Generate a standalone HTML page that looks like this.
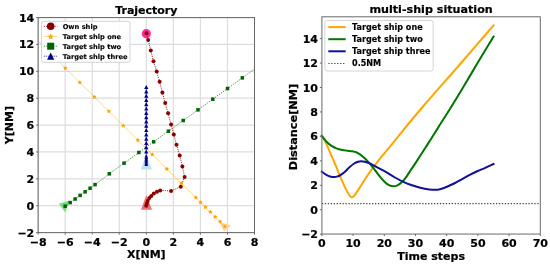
<!DOCTYPE html>
<html><head><meta charset="utf-8"><title>multi-ship situation</title>
<style>
html,body{margin:0;padding:0;background:#fff;}
svg{display:block;filter:blur(0.35px);}
.t{stroke:#000;stroke-width:0.22px;font-family:'DejaVu Sans', 'Liberation Sans', sans-serif;font-weight:bold;font-size:11px;fill:#000;}
.lg1{stroke:#000;stroke-width:0.12px;font-family:'DejaVu Sans', 'Liberation Sans', sans-serif;font-weight:bold;font-size:6.7px;fill:#000;}
.lg2{stroke:#000;stroke-width:0.14px;font-family:'DejaVu Sans', 'Liberation Sans', sans-serif;font-weight:bold;font-size:8.1px;fill:#000;}
</style></head>
<body>
<svg width="550" height="265" viewBox="0 0 550 265">
<rect width="550" height="265" fill="#fff"/>
<line x1="38.15" y1="17.57" x2="38.15" y2="232.60" stroke="#dddddd" stroke-width="1.2"/>
<line x1="65.19" y1="17.57" x2="65.19" y2="232.60" stroke="#dddddd" stroke-width="1.2"/>
<line x1="92.24" y1="17.57" x2="92.24" y2="232.60" stroke="#dddddd" stroke-width="1.2"/>
<line x1="119.28" y1="17.57" x2="119.28" y2="232.60" stroke="#dddddd" stroke-width="1.2"/>
<line x1="146.32" y1="17.57" x2="146.32" y2="232.60" stroke="#dddddd" stroke-width="1.2"/>
<line x1="173.37" y1="17.57" x2="173.37" y2="232.60" stroke="#dddddd" stroke-width="1.2"/>
<line x1="200.41" y1="17.57" x2="200.41" y2="232.60" stroke="#dddddd" stroke-width="1.2"/>
<line x1="227.46" y1="17.57" x2="227.46" y2="232.60" stroke="#dddddd" stroke-width="1.2"/>
<line x1="254.50" y1="17.57" x2="254.50" y2="232.60" stroke="#dddddd" stroke-width="1.2"/>
<line x1="38.15" y1="232.60" x2="254.50" y2="232.60" stroke="#dddddd" stroke-width="1.2"/>
<line x1="38.15" y1="205.72" x2="254.50" y2="205.72" stroke="#dddddd" stroke-width="1.2"/>
<line x1="38.15" y1="178.84" x2="254.50" y2="178.84" stroke="#dddddd" stroke-width="1.2"/>
<line x1="38.15" y1="151.96" x2="254.50" y2="151.96" stroke="#dddddd" stroke-width="1.2"/>
<line x1="38.15" y1="125.08" x2="254.50" y2="125.08" stroke="#dddddd" stroke-width="1.2"/>
<line x1="38.15" y1="98.21" x2="254.50" y2="98.21" stroke="#dddddd" stroke-width="1.2"/>
<line x1="38.15" y1="71.33" x2="254.50" y2="71.33" stroke="#dddddd" stroke-width="1.2"/>
<line x1="38.15" y1="44.45" x2="254.50" y2="44.45" stroke="#dddddd" stroke-width="1.2"/>
<line x1="38.15" y1="17.57" x2="254.50" y2="17.57" stroke="#dddddd" stroke-width="1.2"/>
<clipPath id="cl"><rect x="38.15" y="17.57" width="216.35" height="215.03"/></clipPath>
<g clip-path="url(#cl)">
<polygon points="146.20,195.20 141.00,209.80 152.10,209.80" fill="#f07070" fill-opacity="1.0"/>
<polygon points="146.27,155.20 140.60,169.60 151.95,169.60" fill="#bfe3f3" fill-opacity="1.0"/>
<polygon points="69.60,200.40 58.90,203.80 65.30,212.50" fill="#7ddc7d" fill-opacity="1.0"/>
<polygon points="219.40,221.90 231.40,225.60 224.00,231.80" fill="#ffd699" fill-opacity="1.0"/>
<circle cx="146.32" cy="33.70" r="4.6" fill="#ff1493" fill-opacity="0.9"/>
<path d="M224.90,226.50 L220.05,221.67 L215.20,216.84 L210.35,212.01 L205.50,207.18 L200.65,202.35 L195.80,197.52 L181.30,183.30 L166.80,168.90 L152.30,154.50 L137.80,140.10 L123.30,125.70 L108.80,111.30 L94.30,96.90 L79.80,82.50 L65.30,68.10 L50.80,53.70 L36.30,39.30 L21.80,24.90" fill="none" stroke="#ffa500" stroke-width="1.0" stroke-opacity="0.45"/>
<path d="M65.20,206.20 L70.18,202.60 L75.16,199.00 L80.14,195.40 L85.12,191.80 L90.10,188.20 L95.08,184.60 L109.30,173.80 L124.08,163.14 L138.86,152.48 L153.64,141.82 L168.42,131.16 L183.20,120.50 L197.98,109.84 L212.76,99.18 L227.54,88.52 L242.32,77.86 L257.10,67.20 L271.88,56.54" fill="none" stroke="#1f8a1f" stroke-width="1.0" stroke-dasharray="1.2,1.3" stroke-opacity="0.9"/>
<path d="M146.27,164.30 L146.27,162.88 L146.27,161.46 L146.27,160.04 L146.27,158.62 L146.27,157.20 L146.27,155.78 L146.27,151.50 L146.27,147.20 L146.27,142.90 L146.27,138.60 L146.27,134.30 L146.27,130.00 L146.27,125.70 L146.27,121.40 L146.27,117.10 L146.27,112.80 L146.27,108.50 L146.27,104.20 L146.27,99.90 L146.27,95.60 L146.27,91.30 L146.27,87.00" fill="none" stroke="#2020a0" stroke-width="0.9" stroke-dasharray="1,1"/>
<path d="M146.20,205.70 L146.80,203.80 L147.70,200.90 L149.30,198.10 L151.30,195.90 L153.80,193.60 L157.00,191.70 L160.20,190.40 L171.10,190.90 L180.80,186.70 L184.60,176.90 L182.40,166.40 L179.70,155.60 L176.50,144.80 L173.80,134.60 L171.10,124.40 L168.10,113.30 L165.20,102.90 L162.40,92.60 L159.60,81.80 L156.70,71.50 L153.50,61.20 L150.80,50.60 L148.20,40.10 L146.45,33.25" fill="none" stroke="#a01010" stroke-width="1.0" stroke-dasharray="1,1.2"/>
<polygon points="224.90,224.30 224.12,225.43 222.81,225.82 223.64,226.91 223.61,228.28 224.90,227.82 226.19,228.28 226.16,226.91 226.99,225.82 225.68,225.43" fill="#ffa500"/>
<polygon points="220.05,219.47 219.27,220.60 217.96,220.99 218.79,222.08 218.76,223.45 220.05,222.99 221.34,223.45 221.31,222.08 222.14,220.99 220.83,220.60" fill="#ffa500"/>
<polygon points="215.20,214.64 214.42,215.77 213.11,216.16 213.94,217.25 213.91,218.62 215.20,218.16 216.49,218.62 216.46,217.25 217.29,216.16 215.98,215.77" fill="#ffa500"/>
<polygon points="210.35,209.81 209.57,210.94 208.26,211.33 209.09,212.42 209.06,213.79 210.35,213.33 211.64,213.79 211.61,212.42 212.44,211.33 211.13,210.94" fill="#ffa500"/>
<polygon points="205.50,204.98 204.72,206.11 203.41,206.50 204.24,207.59 204.21,208.96 205.50,208.50 206.79,208.96 206.76,207.59 207.59,206.50 206.28,206.11" fill="#ffa500"/>
<polygon points="200.65,200.15 199.87,201.28 198.56,201.67 199.39,202.76 199.36,204.13 200.65,203.67 201.94,204.13 201.91,202.76 202.74,201.67 201.43,201.28" fill="#ffa500"/>
<polygon points="195.80,195.32 195.02,196.45 193.71,196.84 194.54,197.93 194.51,199.30 195.80,198.84 197.09,199.30 197.06,197.93 197.89,196.84 196.58,196.45" fill="#ffa500"/>
<polygon points="181.30,181.10 180.52,182.23 179.21,182.62 180.04,183.71 180.01,185.08 181.30,184.62 182.59,185.08 182.56,183.71 183.39,182.62 182.08,182.23" fill="#ffa500"/>
<polygon points="166.80,166.70 166.02,167.83 164.71,168.22 165.54,169.31 165.51,170.68 166.80,170.22 168.09,170.68 168.06,169.31 168.89,168.22 167.58,167.83" fill="#ffa500"/>
<polygon points="152.30,152.30 151.52,153.43 150.21,153.82 151.04,154.91 151.01,156.28 152.30,155.82 153.59,156.28 153.56,154.91 154.39,153.82 153.08,153.43" fill="#ffa500"/>
<polygon points="137.80,137.90 137.02,139.03 135.71,139.42 136.54,140.51 136.51,141.88 137.80,141.42 139.09,141.88 139.06,140.51 139.89,139.42 138.58,139.03" fill="#ffa500"/>
<polygon points="123.30,123.50 122.52,124.63 121.21,125.02 122.04,126.11 122.01,127.48 123.30,127.02 124.59,127.48 124.56,126.11 125.39,125.02 124.08,124.63" fill="#ffa500"/>
<polygon points="108.80,109.10 108.02,110.23 106.71,110.62 107.54,111.71 107.51,113.08 108.80,112.62 110.09,113.08 110.06,111.71 110.89,110.62 109.58,110.23" fill="#ffa500"/>
<polygon points="94.30,94.70 93.52,95.83 92.21,96.22 93.04,97.31 93.01,98.68 94.30,98.22 95.59,98.68 95.56,97.31 96.39,96.22 95.08,95.83" fill="#ffa500"/>
<polygon points="79.80,80.30 79.02,81.43 77.71,81.82 78.54,82.91 78.51,84.28 79.80,83.82 81.09,84.28 81.06,82.91 81.89,81.82 80.58,81.43" fill="#ffa500"/>
<polygon points="65.30,65.90 64.52,67.03 63.21,67.42 64.04,68.51 64.01,69.88 65.30,69.42 66.59,69.88 66.56,68.51 67.39,67.42 66.08,67.03" fill="#ffa500"/>
<polygon points="50.80,51.50 50.02,52.63 48.71,53.02 49.54,54.11 49.51,55.48 50.80,55.02 52.09,55.48 52.06,54.11 52.89,53.02 51.58,52.63" fill="#ffa500"/>
<polygon points="36.30,37.10 35.52,38.23 34.21,38.62 35.04,39.71 35.01,41.08 36.30,40.62 37.59,41.08 37.56,39.71 38.39,38.62 37.08,38.23" fill="#ffa500"/>
<polygon points="21.80,22.70 21.02,23.83 19.71,24.22 20.54,25.31 20.51,26.68 21.80,26.22 23.09,26.68 23.06,25.31 23.89,24.22 22.58,23.83" fill="#ffa500"/>
<rect x="63.45" y="204.45" width="3.5" height="3.5" fill="#006400"/>
<rect x="68.43" y="200.85" width="3.5" height="3.5" fill="#006400"/>
<rect x="73.41" y="197.25" width="3.5" height="3.5" fill="#006400"/>
<rect x="78.39" y="193.65" width="3.5" height="3.5" fill="#006400"/>
<rect x="83.37" y="190.05" width="3.5" height="3.5" fill="#006400"/>
<rect x="88.35" y="186.45" width="3.5" height="3.5" fill="#006400"/>
<rect x="93.33" y="182.85" width="3.5" height="3.5" fill="#006400"/>
<rect x="107.55" y="172.05" width="3.5" height="3.5" fill="#006400"/>
<rect x="122.33" y="161.39" width="3.5" height="3.5" fill="#006400"/>
<rect x="137.11" y="150.73" width="3.5" height="3.5" fill="#006400"/>
<rect x="151.89" y="140.07" width="3.5" height="3.5" fill="#006400"/>
<rect x="166.67" y="129.41" width="3.5" height="3.5" fill="#006400"/>
<rect x="181.45" y="118.75" width="3.5" height="3.5" fill="#006400"/>
<rect x="196.23" y="108.09" width="3.5" height="3.5" fill="#006400"/>
<rect x="211.01" y="97.43" width="3.5" height="3.5" fill="#006400"/>
<rect x="225.79" y="86.77" width="3.5" height="3.5" fill="#006400"/>
<rect x="240.57" y="76.11" width="3.5" height="3.5" fill="#006400"/>
<rect x="255.35" y="65.45" width="3.5" height="3.5" fill="#006400"/>
<rect x="270.13" y="54.79" width="3.5" height="3.5" fill="#006400"/>
<polygon points="146.27,162.50 144.47,166.10 148.07,166.10" fill="#00008b"/>
<polygon points="146.27,161.08 144.47,164.68 148.07,164.68" fill="#00008b"/>
<polygon points="146.27,159.66 144.47,163.26 148.07,163.26" fill="#00008b"/>
<polygon points="146.27,158.24 144.47,161.84 148.07,161.84" fill="#00008b"/>
<polygon points="146.27,156.82 144.47,160.42 148.07,160.42" fill="#00008b"/>
<polygon points="146.27,155.40 144.47,159.00 148.07,159.00" fill="#00008b"/>
<polygon points="146.27,153.98 144.47,157.58 148.07,157.58" fill="#00008b"/>
<polygon points="146.27,149.40 144.17,153.60 148.37,153.60" fill="#00008b"/>
<polygon points="146.27,145.10 144.17,149.30 148.37,149.30" fill="#00008b"/>
<polygon points="146.27,140.80 144.17,145.00 148.37,145.00" fill="#00008b"/>
<polygon points="146.27,136.50 144.17,140.70 148.37,140.70" fill="#00008b"/>
<polygon points="146.27,132.20 144.17,136.40 148.37,136.40" fill="#00008b"/>
<polygon points="146.27,127.90 144.17,132.10 148.37,132.10" fill="#00008b"/>
<polygon points="146.27,123.60 144.17,127.80 148.37,127.80" fill="#00008b"/>
<polygon points="146.27,119.30 144.17,123.50 148.37,123.50" fill="#00008b"/>
<polygon points="146.27,115.00 144.17,119.20 148.37,119.20" fill="#00008b"/>
<polygon points="146.27,110.70 144.17,114.90 148.37,114.90" fill="#00008b"/>
<polygon points="146.27,106.40 144.17,110.60 148.37,110.60" fill="#00008b"/>
<polygon points="146.27,102.10 144.17,106.30 148.37,106.30" fill="#00008b"/>
<polygon points="146.27,97.80 144.17,102.00 148.37,102.00" fill="#00008b"/>
<polygon points="146.27,93.50 144.17,97.70 148.37,97.70" fill="#00008b"/>
<polygon points="146.27,89.20 144.17,93.40 148.37,93.40" fill="#00008b"/>
<polygon points="146.27,84.90 144.17,89.10 148.37,89.10" fill="#00008b"/>
<circle cx="146.20" cy="205.70" r="2.0" fill="#8b0000"/>
<circle cx="146.80" cy="203.80" r="2.0" fill="#8b0000"/>
<circle cx="147.70" cy="200.90" r="2.0" fill="#8b0000"/>
<circle cx="149.30" cy="198.10" r="2.0" fill="#8b0000"/>
<circle cx="151.30" cy="195.90" r="2.0" fill="#8b0000"/>
<circle cx="153.80" cy="193.60" r="2.0" fill="#8b0000"/>
<circle cx="157.00" cy="191.70" r="2.0" fill="#8b0000"/>
<circle cx="160.20" cy="190.40" r="2.0" fill="#8b0000"/>
<circle cx="171.10" cy="190.90" r="2.0" fill="#8b0000"/>
<circle cx="180.80" cy="186.70" r="2.0" fill="#8b0000"/>
<circle cx="184.60" cy="176.90" r="2.0" fill="#8b0000"/>
<circle cx="182.40" cy="166.40" r="2.0" fill="#8b0000"/>
<circle cx="179.70" cy="155.60" r="2.0" fill="#8b0000"/>
<circle cx="176.50" cy="144.80" r="2.0" fill="#8b0000"/>
<circle cx="173.80" cy="134.60" r="2.0" fill="#8b0000"/>
<circle cx="171.10" cy="124.40" r="2.0" fill="#8b0000"/>
<circle cx="168.10" cy="113.30" r="2.0" fill="#8b0000"/>
<circle cx="165.20" cy="102.90" r="2.0" fill="#8b0000"/>
<circle cx="162.40" cy="92.60" r="2.0" fill="#8b0000"/>
<circle cx="159.60" cy="81.80" r="2.0" fill="#8b0000"/>
<circle cx="156.70" cy="71.50" r="2.0" fill="#8b0000"/>
<circle cx="153.50" cy="61.20" r="2.0" fill="#8b0000"/>
<circle cx="150.80" cy="50.60" r="2.0" fill="#8b0000"/>
<circle cx="148.20" cy="40.10" r="2.0" fill="#8b0000"/>
<circle cx="146.45" cy="33.25" r="2.0" fill="#8b0000"/>
</g>
<rect x="38.15" y="17.57" width="216.35" height="215.03" fill="none" stroke="#6a6a6a" stroke-width="1.0"/>
<line x1="38.15" y1="232.60" x2="38.15" y2="234.60" stroke="#6a6a6a" stroke-width="1.0"/>
<text x="38.15" y="245.80" text-anchor="middle" class="t">−8</text>
<line x1="65.19" y1="232.60" x2="65.19" y2="234.60" stroke="#6a6a6a" stroke-width="1.0"/>
<text x="65.19" y="245.80" text-anchor="middle" class="t">−6</text>
<line x1="92.24" y1="232.60" x2="92.24" y2="234.60" stroke="#6a6a6a" stroke-width="1.0"/>
<text x="92.24" y="245.80" text-anchor="middle" class="t">−4</text>
<line x1="119.28" y1="232.60" x2="119.28" y2="234.60" stroke="#6a6a6a" stroke-width="1.0"/>
<text x="119.28" y="245.80" text-anchor="middle" class="t">−2</text>
<line x1="146.32" y1="232.60" x2="146.32" y2="234.60" stroke="#6a6a6a" stroke-width="1.0"/>
<text x="146.32" y="245.80" text-anchor="middle" class="t">0</text>
<line x1="173.37" y1="232.60" x2="173.37" y2="234.60" stroke="#6a6a6a" stroke-width="1.0"/>
<text x="173.37" y="245.80" text-anchor="middle" class="t">2</text>
<line x1="200.41" y1="232.60" x2="200.41" y2="234.60" stroke="#6a6a6a" stroke-width="1.0"/>
<text x="200.41" y="245.80" text-anchor="middle" class="t">4</text>
<line x1="227.46" y1="232.60" x2="227.46" y2="234.60" stroke="#6a6a6a" stroke-width="1.0"/>
<text x="227.46" y="245.80" text-anchor="middle" class="t">6</text>
<line x1="254.50" y1="232.60" x2="254.50" y2="234.60" stroke="#6a6a6a" stroke-width="1.0"/>
<text x="254.50" y="245.80" text-anchor="middle" class="t">8</text>
<line x1="36.15" y1="232.60" x2="38.15" y2="232.60" stroke="#6a6a6a" stroke-width="1.0"/>
<text x="34.25" y="236.60" text-anchor="end" class="t">−2</text>
<line x1="36.15" y1="205.72" x2="38.15" y2="205.72" stroke="#6a6a6a" stroke-width="1.0"/>
<text x="34.25" y="209.72" text-anchor="end" class="t">0</text>
<line x1="36.15" y1="178.84" x2="38.15" y2="178.84" stroke="#6a6a6a" stroke-width="1.0"/>
<text x="34.25" y="182.84" text-anchor="end" class="t">2</text>
<line x1="36.15" y1="151.96" x2="38.15" y2="151.96" stroke="#6a6a6a" stroke-width="1.0"/>
<text x="34.25" y="155.96" text-anchor="end" class="t">4</text>
<line x1="36.15" y1="125.08" x2="38.15" y2="125.08" stroke="#6a6a6a" stroke-width="1.0"/>
<text x="34.25" y="129.08" text-anchor="end" class="t">6</text>
<line x1="36.15" y1="98.21" x2="38.15" y2="98.21" stroke="#6a6a6a" stroke-width="1.0"/>
<text x="34.25" y="102.21" text-anchor="end" class="t">8</text>
<line x1="36.15" y1="71.33" x2="38.15" y2="71.33" stroke="#6a6a6a" stroke-width="1.0"/>
<text x="34.25" y="75.33" text-anchor="end" class="t">10</text>
<line x1="36.15" y1="44.45" x2="38.15" y2="44.45" stroke="#6a6a6a" stroke-width="1.0"/>
<text x="34.25" y="48.45" text-anchor="end" class="t">12</text>
<line x1="36.15" y1="17.57" x2="38.15" y2="17.57" stroke="#6a6a6a" stroke-width="1.0"/>
<text x="34.25" y="21.57" text-anchor="end" class="t">14</text>
<text x="146.32" y="14.17" text-anchor="middle" class="t">Trajectory</text>
<text x="146.32" y="257.7" text-anchor="middle" class="t">X[NM]</text>
<text transform="translate(13.2,125.08) rotate(-90)" text-anchor="middle" class="t">Y[NM]</text>
<rect x="41.5" y="21.3" width="88.5" height="41.0" rx="2" fill="#fff" fill-opacity="0.85" stroke="#d0d0d0" stroke-width="0.9"/>
<line x1="43.8" y1="26.3" x2="57.4" y2="26.3" stroke="#a01010" stroke-width="0.9" stroke-dasharray="1,1.2"/>
<circle cx="50.7" cy="26.3" r="3.8" fill="#8b0000"/>
<line x1="43.8" y1="36.4" x2="57.4" y2="36.4" stroke="#ffa500" stroke-width="1.0" stroke-opacity="0.45"/>
<polygon points="50.70,33.60 49.80,35.56 47.66,35.81 49.24,37.27 48.82,39.39 50.70,38.34 52.58,39.39 52.16,37.27 53.74,35.81 51.60,35.56" fill="#ffa500"/>
<line x1="43.8" y1="46.2" x2="57.4" y2="46.2" stroke="#2e9a2e" stroke-width="0.9" stroke-dasharray="1.2,1.2"/>
<rect x="47.20" y="42.70" width="7.0" height="7.0" fill="#006400"/>
<line x1="43.8" y1="56.2" x2="57.4" y2="56.2" stroke="#2020a0" stroke-width="0.9" stroke-dasharray="1,1"/>
<polygon points="50.70,52.60 47.10,59.80 54.30,59.80" fill="#00008b"/>
<text x="62.7" y="28.60" class="lg1">Own ship</text>
<text x="62.7" y="38.70" class="lg1">Target ship one</text>
<text x="62.7" y="48.50" class="lg1">Target ship two</text>
<text x="62.7" y="58.50" class="lg1">Target ship three</text>
<line x1="321.9" y1="203.64" x2="540.3" y2="203.64" stroke="#444" stroke-width="1.2" stroke-dasharray="1.3,1.65"/>
<path d="M321.80,135.80 C322.38,136.77 323.83,138.63 325.30,141.60 C326.77,144.57 328.85,149.58 330.60,153.60 C332.35,157.62 334.05,161.53 335.80,165.70 C337.55,169.87 339.57,174.98 341.10,178.60 C342.63,182.22 343.85,185.00 345.00,187.40 C346.15,189.80 347.13,191.50 348.00,193.00 C348.87,194.50 349.55,195.68 350.20,196.40 C350.85,197.12 351.33,197.30 351.90,197.30 C352.47,197.30 352.93,197.05 353.60,196.40 C354.27,195.75 354.63,195.27 355.90,193.40 C357.17,191.53 359.43,187.93 361.20,185.20 C362.97,182.47 364.63,179.80 366.50,177.00 C368.37,174.20 370.48,171.05 372.40,168.40 C374.32,165.75 376.15,163.45 378.00,161.10 C379.85,158.75 381.00,157.35 383.50,154.30 C386.00,151.25 388.87,147.85 393.00,142.80 C397.13,137.75 403.30,130.05 408.30,124.00 C413.30,117.95 417.82,112.57 423.00,106.50 C428.18,100.43 434.07,93.68 439.40,87.60 C444.73,81.52 449.47,76.33 455.00,70.00 C460.53,63.67 467.57,55.43 472.60,49.60 C477.63,43.77 481.70,39.05 485.20,35.00 C488.70,30.95 492.20,26.92 493.60,25.30" fill="none" stroke="#ffa500" stroke-width="2.0" stroke-linecap="square"/>
<path d="M321.80,135.80 C322.63,136.83 325.18,140.32 326.80,142.00 C328.42,143.68 329.80,144.80 331.50,145.90 C333.20,147.00 335.25,147.93 337.00,148.60 C338.75,149.27 340.30,149.55 342.00,149.90 C343.70,150.25 345.48,150.47 347.20,150.70 C348.92,150.93 350.78,151.05 352.30,151.30 C353.82,151.55 355.02,151.68 356.30,152.20 C357.58,152.72 358.73,153.50 360.00,154.40 C361.27,155.30 362.53,156.37 363.90,157.60 C365.27,158.83 366.53,159.97 368.20,161.80 C369.87,163.63 372.02,166.20 373.90,168.60 C375.78,171.00 377.65,173.93 379.50,176.20 C381.35,178.47 383.33,180.67 385.00,182.20 C386.67,183.73 388.18,184.72 389.50,185.40 C390.82,186.08 391.57,186.32 392.90,186.30 C394.23,186.28 395.98,186.02 397.50,185.30 C399.02,184.58 400.47,183.50 402.00,182.00 C403.53,180.50 405.17,178.40 406.70,176.30 C408.23,174.20 409.68,171.68 411.20,169.40 C412.72,167.12 413.42,166.23 415.80,162.60 C418.18,158.97 421.88,153.27 425.50,147.60 C429.12,141.93 433.43,135.03 437.50,128.60 C441.57,122.17 445.82,115.57 449.90,109.00 C453.98,102.43 457.32,96.98 462.00,89.20 C466.68,81.42 472.73,71.08 478.00,62.30 C483.27,53.52 491.00,40.80 493.60,36.50" fill="none" stroke="#007800" stroke-width="2.0" stroke-linecap="square"/>
<path d="M321.80,171.70 C322.50,172.18 324.63,173.80 326.00,174.60 C327.37,175.40 328.58,176.08 330.00,176.50 C331.42,176.92 333.17,177.13 334.50,177.10 C335.83,177.07 337.08,176.60 338.00,176.30 C338.92,176.00 338.88,176.02 340.00,175.30 C341.12,174.58 343.13,173.33 344.70,172.00 C346.27,170.67 347.82,168.72 349.40,167.30 C350.98,165.88 352.77,164.43 354.20,163.50 C355.63,162.57 356.87,162.08 358.00,161.70 C359.13,161.32 359.83,161.20 361.00,161.20 C362.17,161.20 363.53,161.33 365.00,161.70 C366.47,162.07 368.30,162.75 369.80,163.40 C371.30,164.05 371.63,164.35 374.00,165.60 C376.37,166.85 380.50,168.92 384.00,170.90 C387.50,172.88 391.50,175.53 395.00,177.50 C398.50,179.47 402.30,181.45 405.00,182.70 C407.70,183.95 408.65,184.15 411.20,185.00 C413.75,185.85 417.28,187.07 420.30,187.80 C423.32,188.53 426.55,189.08 429.30,189.40 C432.05,189.72 435.02,189.72 436.80,189.70 C438.58,189.68 438.22,189.83 440.00,189.30 C441.78,188.77 444.98,187.55 447.50,186.50 C450.02,185.45 452.58,184.27 455.10,183.00 C457.62,181.73 460.08,180.30 462.60,178.90 C465.12,177.50 467.68,175.92 470.20,174.60 C472.72,173.28 475.20,172.13 477.70,171.00 C480.20,169.87 482.57,168.97 485.20,167.80 C487.83,166.63 492.12,164.63 493.50,164.00" fill="none" stroke="#10109a" stroke-width="2.0" stroke-linecap="square"/>
<rect x="321.9" y="16.8" width="218.40" height="217.25" fill="none" stroke="#6a6a6a" stroke-width="1.0"/>
<line x1="321.90" y1="234.05" x2="321.90" y2="236.05" stroke="#6a6a6a" stroke-width="1.0"/>
<text x="321.90" y="247.25" text-anchor="middle" class="t">0</text>
<line x1="353.10" y1="234.05" x2="353.10" y2="236.05" stroke="#6a6a6a" stroke-width="1.0"/>
<text x="353.10" y="247.25" text-anchor="middle" class="t">10</text>
<line x1="384.30" y1="234.05" x2="384.30" y2="236.05" stroke="#6a6a6a" stroke-width="1.0"/>
<text x="384.30" y="247.25" text-anchor="middle" class="t">20</text>
<line x1="415.50" y1="234.05" x2="415.50" y2="236.05" stroke="#6a6a6a" stroke-width="1.0"/>
<text x="415.50" y="247.25" text-anchor="middle" class="t">30</text>
<line x1="446.70" y1="234.05" x2="446.70" y2="236.05" stroke="#6a6a6a" stroke-width="1.0"/>
<text x="446.70" y="247.25" text-anchor="middle" class="t">40</text>
<line x1="477.90" y1="234.05" x2="477.90" y2="236.05" stroke="#6a6a6a" stroke-width="1.0"/>
<text x="477.90" y="247.25" text-anchor="middle" class="t">50</text>
<line x1="509.10" y1="234.05" x2="509.10" y2="236.05" stroke="#6a6a6a" stroke-width="1.0"/>
<text x="509.10" y="247.25" text-anchor="middle" class="t">60</text>
<line x1="540.30" y1="234.05" x2="540.30" y2="236.05" stroke="#6a6a6a" stroke-width="1.0"/>
<text x="540.30" y="247.25" text-anchor="middle" class="t">70</text>
<line x1="319.90" y1="234.20" x2="321.90" y2="234.20" stroke="#6a6a6a" stroke-width="1.0"/>
<text x="318.00" y="238.20" text-anchor="end" class="t">−2</text>
<line x1="319.90" y1="209.75" x2="321.90" y2="209.75" stroke="#6a6a6a" stroke-width="1.0"/>
<text x="318.00" y="213.75" text-anchor="end" class="t">0</text>
<line x1="319.90" y1="185.30" x2="321.90" y2="185.30" stroke="#6a6a6a" stroke-width="1.0"/>
<text x="318.00" y="189.30" text-anchor="end" class="t">2</text>
<line x1="319.90" y1="160.85" x2="321.90" y2="160.85" stroke="#6a6a6a" stroke-width="1.0"/>
<text x="318.00" y="164.85" text-anchor="end" class="t">4</text>
<line x1="319.90" y1="136.40" x2="321.90" y2="136.40" stroke="#6a6a6a" stroke-width="1.0"/>
<text x="318.00" y="140.40" text-anchor="end" class="t">6</text>
<line x1="319.90" y1="111.95" x2="321.90" y2="111.95" stroke="#6a6a6a" stroke-width="1.0"/>
<text x="318.00" y="115.95" text-anchor="end" class="t">8</text>
<line x1="319.90" y1="87.50" x2="321.90" y2="87.50" stroke="#6a6a6a" stroke-width="1.0"/>
<text x="318.00" y="91.50" text-anchor="end" class="t">10</text>
<line x1="319.90" y1="63.05" x2="321.90" y2="63.05" stroke="#6a6a6a" stroke-width="1.0"/>
<text x="318.00" y="67.05" text-anchor="end" class="t">12</text>
<line x1="319.90" y1="38.60" x2="321.90" y2="38.60" stroke="#6a6a6a" stroke-width="1.0"/>
<text x="318.00" y="42.60" text-anchor="end" class="t">14</text>
<text x="431.10" y="13.20" text-anchor="middle" class="t" style="font-size:11.15px">multi-ship situation</text>
<text x="431.10" y="259.8" text-anchor="middle" class="t">Time steps</text>
<text transform="translate(296.5,127.03) rotate(-90)" text-anchor="middle" class="t" style="font-size:11.3px">Distance[NM]</text>
<rect x="324.8" y="20.5" width="108.40" height="50.50" rx="2.5" fill="#fff" fill-opacity="0.85" stroke="#d0d0d0" stroke-width="0.9"/>
<line x1="328.3" y1="27.1" x2="345.7" y2="27.1" stroke="#ffa500" stroke-width="2.0"/>
<line x1="328.3" y1="39.2" x2="345.7" y2="39.2" stroke="#007800" stroke-width="2.0"/>
<line x1="328.3" y1="51.3" x2="345.7" y2="51.3" stroke="#10109a" stroke-width="2.0"/>
<line x1="328.3" y1="63.5" x2="345.7" y2="63.5" stroke="#444" stroke-width="1.2" stroke-dasharray="1.3,1.65"/>
<text x="352.0" y="30.00" class="lg2">Target ship one</text>
<text x="352.0" y="42.10" class="lg2">Target ship two</text>
<text x="352.0" y="54.20" class="lg2">Target ship three</text>
<text x="352.0" y="66.40" class="lg2">0.5NM</text>
</svg>
</body></html>
